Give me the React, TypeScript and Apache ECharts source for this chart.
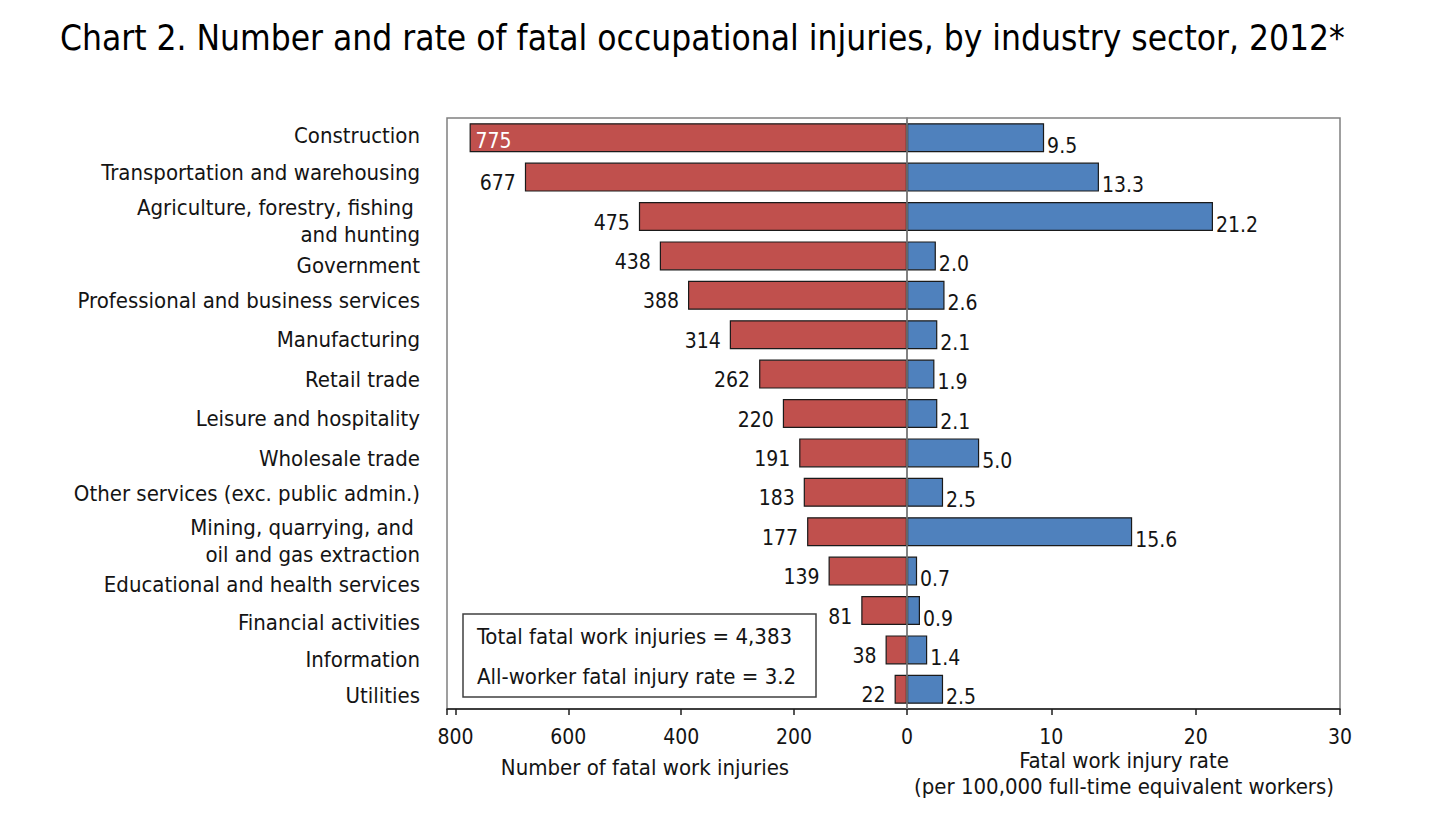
import React, { useEffect, useRef } from 'react';
import * as echarts from 'echarts';

const categories = [
  'Construction',
  'Transportation and warehousing',
  'Agriculture, forestry, fishing \nand hunting',
  'Government',
  'Professional and business services',
  'Manufacturing',
  'Retail trade',
  'Leisure and hospitality',
  'Wholesale trade',
  'Other services (exc. public admin.)',
  'Mining, quarrying, and \noil and gas extraction',
  'Educational and health services',
  'Financial activities',
  'Information',
  'Utilities',
];
const fatalities = [775, 677, 475, 438, 388, 314, 262, 220, 191, 183, 177, 139, 81, 38, 22];
const rates = [9.5, 13.3, 21.2, 2.0, 2.6, 2.1, 1.9, 2.1, 5.0, 2.5, 15.6, 0.7, 0.9, 1.4, 2.5];

const title = 'Chart 2. Number and rate of fatal occupational injuries, by industry sector, 2012*';
const leftAxisName = 'Number of fatal work injuries';
const rightAxisName1 = 'Fatal work injury rate';
const rightAxisName2 = '(per 100,000 full-time equivalent workers)';
const noteLines = ['Total fatal work injuries = 4,383', 'All-worker fatal injury rate = 3.2'];

// vertical nudges (px) of the category labels, as placed in the original
const labelNudge = [-2, -5, 4, 10, 5, 5, 5, 5, 6, 1, 9, 13, 12, 10, 6];

const FONT = '"DejaVu Sans Condensed", "Liberation Sans Narrow", sans-serif';
const TXT = '#141414';

export default function App() {
  const ref = useRef<HTMLDivElement>(null);
  useEffect(() => {
    if (!ref.current) return;
    const chart = echarts.init(ref.current, null, { renderer: 'svg' });
    const gridTop = 118;
    const gridHeight = 591;
    const axisLineStyle = { color: '#1e1e1e', width: 1.5 };

    const rich: Record<string, any> = {
      t: { fontSize: 22, lineHeight: 27, color: TXT, fontFamily: FONT },
    };
    labelNudge.forEach((d) => {
      const h = Math.abs(d) * 2;
      if (h > 0) rich['s' + h] = { fontSize: 2, lineHeight: h, height: h };
    });
    const catFormatter = (value: string, index: number) => {
      const d = labelNudge[index] || 0;
      const body = value
        .split('\n')
        .map((l) => '{t|' + l + '}')
        .join('\n');
      if (d === 0) return body;
      const sp = '{s' + Math.abs(d) * 2 + '| }';
      return d > 0 ? sp + '\n' + body : body + '\n' + sp;
    };

    chart.setOption({
      animation: false,
      textStyle: { fontFamily: FONT },
      grid: [
        { left: 447, top: gridTop, width: 460, height: gridHeight, show: true, borderColor: '#808080', borderWidth: 1.5, containLabel: false },
        { left: 907, top: gridTop, width: 433, height: gridHeight, show: true, borderColor: '#808080', borderWidth: 1.5, containLabel: false },
      ],
      xAxis: [
        {
          gridIndex: 0, type: 'value', min: 0, max: 815, interval: 200, inverse: true,
          axisLine: { show: true, lineStyle: axisLineStyle },
          axisTick: { show: true, length: 6, lineStyle: axisLineStyle },
          splitLine: { show: false },
          axisLabel: {
            fontSize: 21, color: TXT, margin: 17, fontFamily: FONT,
            formatter: (v: number) => (v % 200 === 0 ? String(v) : ''),
          },
        },
        {
          gridIndex: 1, type: 'value', min: 0, max: 30, interval: 10,
          axisLine: { show: true, lineStyle: axisLineStyle },
          axisTick: { show: true, length: 6, lineStyle: axisLineStyle },
          splitLine: { show: false },
          axisLabel: { fontSize: 21, color: TXT, margin: 17, fontFamily: FONT, showMinLabel: false },
        },
      ],
      yAxis: [
        {
          gridIndex: 0, type: 'category', data: categories, inverse: true,
          axisLine: { show: false }, axisTick: { show: false },
          axisLabel: {
            interval: 0, hideOverlap: false,
            fontSize: 22, color: TXT, margin: 27, lineHeight: 27, fontFamily: FONT, align: 'right',
            formatter: catFormatter, rich,
          },
        },
        {
          gridIndex: 1, type: 'category', data: categories, inverse: true,
          axisLine: { show: false }, axisTick: { show: false }, axisLabel: { show: false },
        },
      ],
      series: [
        {
          type: 'bar', xAxisIndex: 0, yAxisIndex: 0, barWidth: 29,
          data: fatalities.map((v, i) =>
            i === 0
              ? { value: v, label: { position: 'insideLeft', color: '#ffffff', distance: 6, offset: [0, 3] } }
              : v
          ),
          itemStyle: { color: '#C0504D', borderColor: '#1a1a1a', borderWidth: 1.2 },
          label: {
            show: true, position: 'left', distance: 9, fontSize: 21, color: TXT, fontFamily: FONT,
            offset: [0, 6],
          },
        },
        {
          type: 'bar', xAxisIndex: 1, yAxisIndex: 1, barWidth: 29,
          data: rates,
          itemStyle: { color: '#4F81BD', borderColor: '#1a1a1a', borderWidth: 1.2 },
          label: {
            show: true, position: 'right', distance: 3, fontSize: 21, color: TXT, fontFamily: FONT,
            offset: [0, 8],
            formatter: (p: any) => Number(p.value).toFixed(1),
          },
          markLine: {
            silent: true, symbol: ['none', 'none'],
            label: { show: false },
            lineStyle: { color: '#808080', width: 1.5, type: 'solid' },
            data: [{ xAxis: 0 }],
          },
        },
      ],
      graphic: [
        {
          type: 'text', left: 60, top: 20,
          style: { text: title, font: '35px "Liberation Sans Narrow", "DejaVu Sans Condensed", sans-serif', fill: '#000' },
        },
        {
          type: 'text', x: 645, y: 767,
          style: { text: leftAxisName, font: `22px ${FONT}`, fill: TXT, align: 'center', verticalAlign: 'middle' },
        },
        {
          type: 'text', x: 1124, y: 760,
          style: { text: rightAxisName1, font: `22px ${FONT}`, fill: TXT, align: 'center', verticalAlign: 'middle' },
        },
        {
          type: 'text', x: 1124, y: 786,
          style: { text: rightAxisName2, font: `22px ${FONT}`, fill: TXT, align: 'center', verticalAlign: 'middle' },
        },
        {
          type: 'rect', shape: { x: 463, y: 614, width: 353, height: 83 },
          style: { fill: '#fff', stroke: '#404040', lineWidth: 1.5 }, z: 10,
        },
        {
          type: 'text', x: 477, y: 636, z: 11,
          style: { text: noteLines[0], font: `22px ${FONT}`, fill: TXT, align: 'left', verticalAlign: 'middle' },
        },
        {
          type: 'text', x: 477, y: 676, z: 11,
          style: { text: noteLines[1], font: `22px ${FONT}`, fill: TXT, align: 'left', verticalAlign: 'middle' },
        },
      ],
    });
    return () => chart.dispose();
  }, []);
  return <div ref={ref} style={{ position: 'absolute', left: 0, top: 0, width: 1440, height: 836, background: '#fff' }} />;
}
